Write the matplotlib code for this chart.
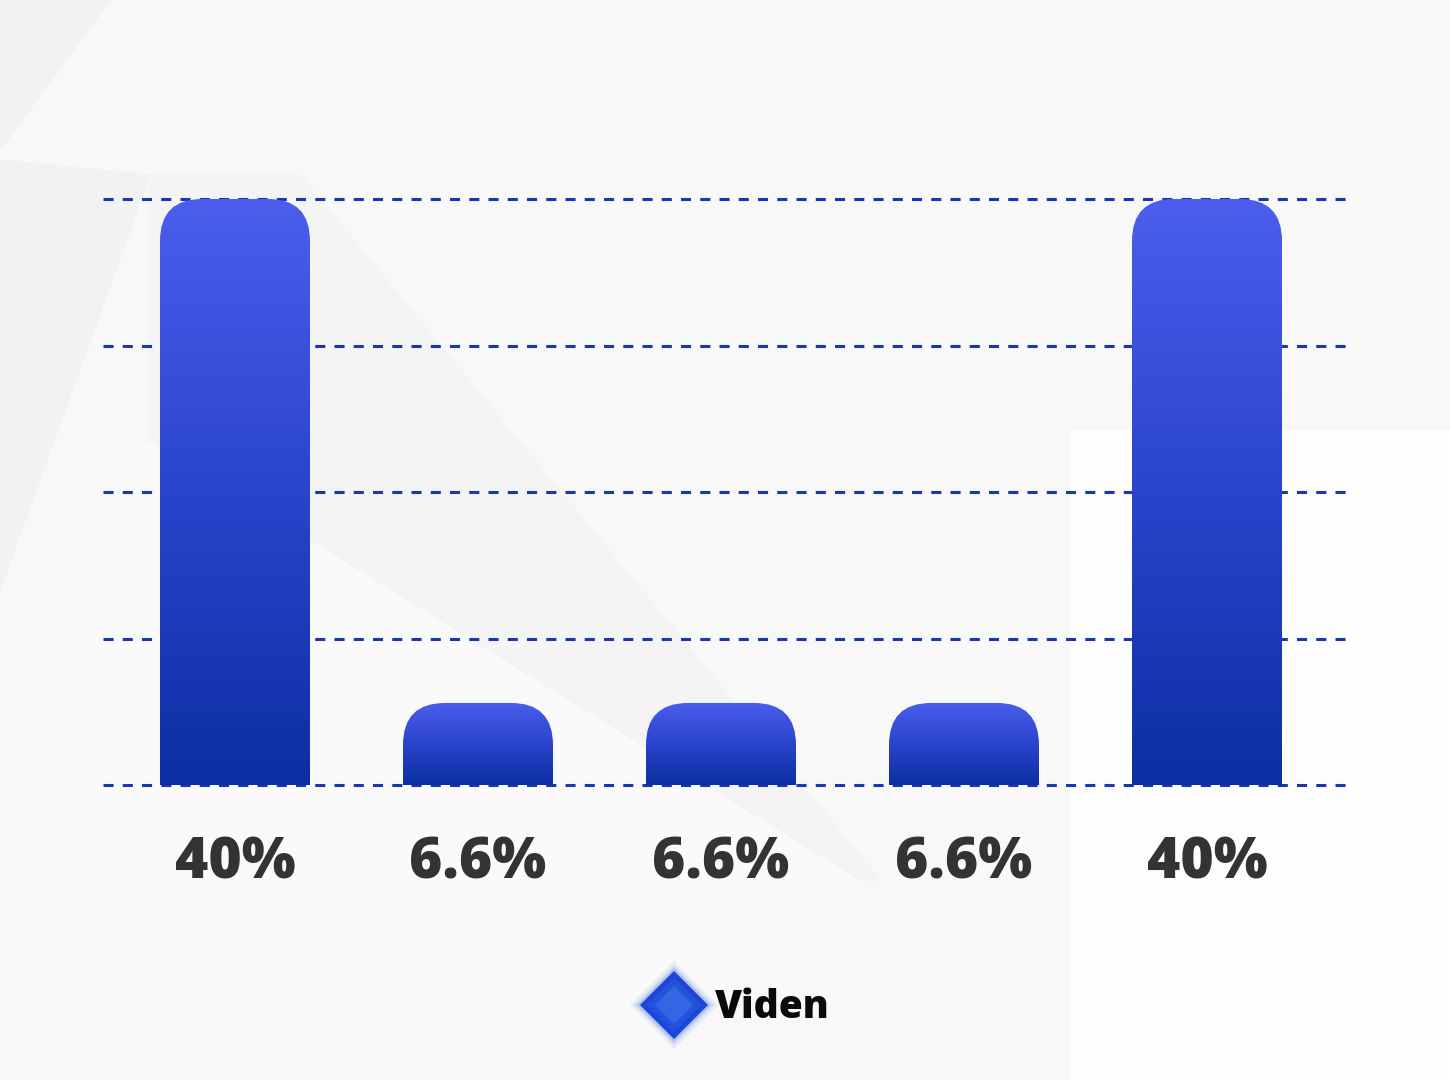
import matplotlib
matplotlib.use("Agg")
import matplotlib.pyplot as plt
import numpy as np
from matplotlib.patches import FancyBboxPatch, Polygon, Rectangle
from matplotlib.colors import LinearSegmentedColormap

# data
labels = ["40%", "6.6%", "6.6%", "6.6%", "40%"]
heights = [40, 5.6, 5.6, 5.6, 40]
grid_vals = [0, 10, 20, 30, 40]

W, H = 1450, 1080
fig = plt.figure(figsize=(W / 100, H / 100), dpi=100)
fig.patch.set_facecolor("#f8f8f8")

# background with faint diagonal shapes, pixel coordinates
bg = fig.add_axes([0, 0, 1, 1], zorder=-10)
bg.set_xlim(0, W)
bg.set_ylim(H, 0)
bg.axis("off")
bg.add_patch(Rectangle((0, 0), W, H, color="#f8f8f8"))
bg.add_patch(Polygon([(0, 0), (110, 0), (0, 150)], color="#f2f2f3"))
bg.add_patch(Polygon([(0, 160), (150, 175), (0, 590)], color="#f2f2f3"))
bg.add_patch(Polygon([(150, 440), (0, 620), (0, 1080), (620, 1080), (860, 880)], color="#fafafa"))
bg.add_patch(Polygon([(150, 175), (300, 175), (880, 880), (860, 880), (150, 440)], color="#f4f4f5"))
bg.add_patch(Rectangle((1070, 430), 380, 650, color="#fdfdfd"))

# logo
cx, cy = 674, 1005
for k, a in zip([44, 40, 37], [0.08, 0.12, 0.2]):
    bg.add_patch(Polygon([(cx, cy - k), (cx + k, cy), (cx, cy + k), (cx - k, cy)],
                         color="#2a55e0", alpha=a, lw=0))
bg.add_patch(Polygon([(cx, cy - 34), (cx + 34, cy), (cx, cy + 34), (cx - 34, cy)], color="#1c47d6", lw=0))
bg.add_patch(Polygon([(cx, cy - 27), (cx + 27, cy), (cx, cy + 27), (cx - 27, cy)], color="#2352dc", lw=0))
bg.add_patch(Polygon([(cx, cy - 19), (cx + 19, cy), (cx, cy + 19), (cx - 19, cy)], color="#3266e4", lw=0))
bg.text(715, cy + 2, "Viden", ha="left", va="center", fontsize=28, fontweight="heavy",
        family="Open Sans", color="#0a0a0a")

# main chart
px_per_unit = 586 / 40
ax = fig.add_axes([103 / W, (H - 800) / H, (1348 - 103) / W, 620 / H])
ax.set_xlim((103 - 235) / 243, (1348 - 235) / 243)
ax.set_ylim(-15 / px_per_unit, (785 - 180) / px_per_unit)
ax.axis("off")

for v in grid_vals:
    ax.axhline(v, color="#1b37b0", lw=2.2, ls=(0, (3.3, 3.0)), zorder=1)

cmap = LinearSegmentedColormap.from_list("bar", ["#0b2fa2", "#2a44cc", "#4b5eed"])
grad = np.linspace(0, 1, 256).reshape(-1, 1)
bw = 150 / 243
rx = 42 / 243
ry = 42 / px_per_unit

for i, (h, lab) in enumerate(zip(heights, labels)):
    x0 = i - bw / 2
    patch = FancyBboxPatch((x0, -ry), bw, h + ry,
                           boxstyle=f"round,pad=0,rounding_size={rx}",
                           mutation_aspect=ry / rx, fc="none", ec="none", zorder=2)
    ax.add_patch(patch)
    im = ax.imshow(grad, cmap=cmap, origin="lower", aspect="auto",
                   extent=[x0, x0 + bw, 0, h], zorder=2)
    im.set_clip_path(patch)
    ax.text(i, -79 / px_per_unit, lab, ha="center", va="center", fontsize=41,
            fontweight="heavy", family="Open Sans", color="#333333")

fig.savefig("out.png", dpi=100, facecolor=fig.get_facecolor())
